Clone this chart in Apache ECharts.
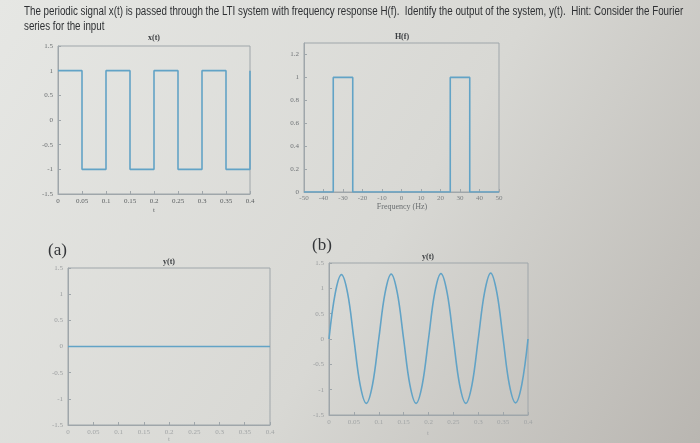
<!DOCTYPE html>
<html>
<head>
<meta charset="utf-8">
<script src="https://cdn.jsdelivr.net/npm/echarts@6/dist/echarts.min.js"></script>
<style>
  html, body { margin: 0; padding: 0; }
  #chart { width: 700px; height: 443px; }
</style>
</head>
<body>
<div id="chart"></div>
<script>
// x(t): square wave, switching times and levels
const squareEdges = [0, 0.05, 0.1, 0.15, 0.2, 0.25, 0.3, 0.35, 0.4];
const squareLevels = [1, -1, 1, -1, 1, -1, 1, -1];

// H(f): band pass at 25..35 Hz
const freqPts = [-50, -35, -35, -25, -25, 25, 25, 35, 35, 50];
const hPts = [0, 0, 1, 1, 0, 0, 1, 1, 0, 0];

// y(t) (a): flat output
const yaT = [0, 0.4];
const yaVals = [0, 0];

// y(t) (b): sampled every 0.0125 s
const ybT = [0, 0.0125, 0.025, 0.0375, 0.05, 0.0625, 0.075, 0.0875,
  0.1, 0.1125, 0.125, 0.1375, 0.15, 0.1625, 0.175, 0.1875,
  0.2, 0.2125, 0.225, 0.2375, 0.25, 0.2625, 0.275, 0.2875,
  0.3, 0.3125, 0.325, 0.3375, 0.35, 0.3625, 0.375, 0.3875, 0.4];
const ybVals = [0, 0.9, 1.27, 0.9, 0, -0.9, -1.27, -0.9,
  0, 0.9, 1.28, 0.9, 0, -0.9, -1.27, -0.9,
  0, 0.91, 1.29, 0.91, 0, -0.9, -1.27, -0.9,
  0, 0.91, 1.3, 0.91, 0, -0.9, -1.26, -0.9, 0];

const tTicks = { min: 0, max: 0.4, interval: 0.05, showMax: true };
const ampTicks = { min: -1.5, max: 1.5, interval: 0.5, showMax: true };
const freqTicks = { min: -50, max: 50, interval: 10, showMax: true };
const hTicks = { min: 0, max: 1.3, interval: 0.2, showMax: false };

// build stepped vertices of the square wave
const squareData = [];
squareLevels.forEach((lv, i) => {
  squareData.push([squareEdges[i], lv]);
  squareData.push([squareEdges[i + 1], lv]);
});
squareData.push([squareEdges[squareEdges.length - 1], squareLevels[0]]);

const lineColor = '#62a3c6';
const boxColor = '#9fa6aa';
const labelFont = 'Liberation Serif';

const grids = [
  { left: 58, top: 46, width: 192, height: 148 },
  { left: 304, top: 43, width: 195, height: 149 },
  { left: 68, top: 268, width: 202, height: 157 },
  { left: 329, top: 263, width: 199, height: 152 }
].map(g => Object.assign({ show: true, borderColor: boxColor, borderWidth: 1, backgroundColor: 'transparent' }, g));

function valAxis(idx, ticks, labelColor, margin) {
  return {
    type: 'value', gridIndex: idx,
    min: ticks.min, max: ticks.max, interval: ticks.interval,
    axisLine: { show: true, onZero: false, lineStyle: { color: boxColor } },
    axisTick: { show: true, inside: true, length: 3, lineStyle: { color: boxColor } },
    splitLine: { show: false },
    axisLabel: { color: labelColor, fontFamily: labelFont, fontSize: 7, margin: margin, showMaxLabel: ticks.showMax }
  };
}

const xAxes = [
  valAxis(0, tTicks, '#5a5e60', 4),
  valAxis(1, freqTicks, '#7c8083', 3),
  valAxis(2, tTicks, '#a2a5a6', 4),
  valAxis(3, tTicks, '#a2a5a6', 4)
];
const yAxes = [
  valAxis(0, ampTicks, '#6a6e70', 5),
  valAxis(1, hTicks, '#6f7376', 5),
  valAxis(2, ampTicks, '#9a9d9f', 5),
  valAxis(3, ampTicks, '#9a9d9f', 5)
];

function series(idx, data, smooth) {
  return {
    type: 'line', xAxisIndex: idx, yAxisIndex: idx, data: data,
    showSymbol: false, smooth: smooth || false,
    lineStyle: { color: lineColor, width: 1.6 }
  };
}

const titleStyle = { fontFamily: labelFont, fontWeight: 'bold', fontSize: 8, fill: '#3a3d40' };

const chart = echarts.init(document.getElementById('chart'));
chart.setOption({
  animation: false,
  backgroundColor: {
    type: 'linear', x: 0, y: 0, x2: 1, y2: 1,
    colorStops: [
      { offset: 0, color: '#e6e7e4' },
      { offset: 0.55, color: '#d8d8d4' },
      { offset: 1, color: '#b9b6b1' }
    ]
  },
  grid: grids,
  xAxis: xAxes,
  yAxis: yAxes,
  series: [
    series(0, squareData),
    series(1, freqPts.map((f, i) => [f, hPts[i]])),
    series(2, yaT.map((t, i) => [t, yaVals[i]])),
    series(3, ybT.map((t, i) => [t, ybVals[i]]), 0.35)
  ],
  graphic: [
    { type: 'text', left: 24, top: 6, scaleX: 0.815,
      style: { text: 'The periodic signal x(t) is passed through the LTI system with frequency response H(f).  Identify the output of the system, y(t).  Hint: Consider the Fourier',
        font: '12px "Liberation Sans"', fill: '#2e3033' } },
    { type: 'text', left: 24, top: 21, scaleX: 0.815,
      style: { text: 'series for the input', font: '12px "Liberation Sans"', fill: '#2e3033' } },
    { type: 'text', x: 154, y: 42, style: Object.assign({ text: 'x(t)', align: 'center', verticalAlign: 'bottom' }, titleStyle) },
    { type: 'text', x: 402, y: 41, style: Object.assign({ text: 'H(f)', align: 'center', verticalAlign: 'bottom' }, titleStyle) },
    { type: 'text', x: 169, y: 266, style: Object.assign({ text: 'y(t)', align: 'center', verticalAlign: 'bottom' }, titleStyle) },
    { type: 'text', x: 428, y: 261, style: Object.assign({ text: 'y(t)', align: 'center', verticalAlign: 'bottom' }, titleStyle) },
    { type: 'text', x: 154, y: 207, style: { text: 't', font: '7px "Liberation Serif"', fill: '#5a5e60', align: 'center' } },
    { type: 'text', x: 402, y: 203, style: { text: 'Frequency (Hz)', font: '8px "Liberation Serif"', fill: '#6a6e70', align: 'center' } },
    { type: 'text', x: 169, y: 436, style: { text: 't', font: '7px "Liberation Serif"', fill: '#a2a5a6', align: 'center' } },
    { type: 'text', x: 428, y: 430, style: { text: 't', font: '7px "Liberation Serif"', fill: '#a2a5a6', align: 'center' } },
    { type: 'text', x: 48, y: 242, style: { text: '(a)', font: '17px "Liberation Serif"', fill: '#333538' } },
    { type: 'text', x: 312, y: 237, style: { text: '(b)', font: '17px "Liberation Serif"', fill: '#333538' } }
  ]
});
</script>
</body>
</html>
